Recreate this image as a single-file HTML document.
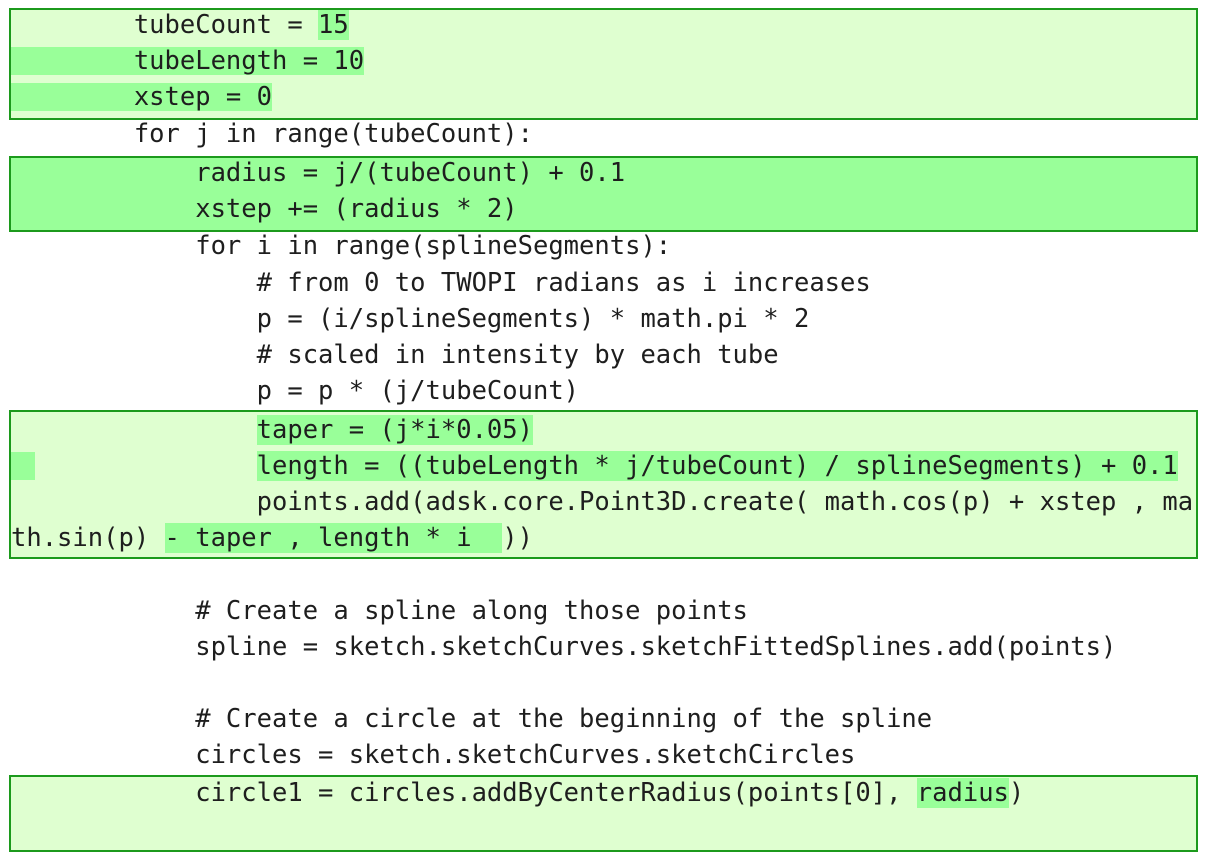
<!DOCTYPE html>
<html><head><meta charset="utf-8"><style>
body{margin:0;width:1206px;height:862px;background:#fff;position:relative;overflow:hidden;font-family:"DejaVu Sans Mono","Liberation Mono",monospace;font-size:25.5px;color:#1e1e1e}
.box{position:absolute;left:9px;width:1185px;border:2px solid #1c9a1c;background:#dfffd0;box-sizing:content-box}
.dark{background:#99ff99}
.l{position:absolute;left:11px;height:28px;line-height:28px;white-space:pre}
.h{background:#99ff99}
.bar{position:absolute;background:#99ff99;height:28px}
</style></head><body>
<div class="box" style="top:8px;height:108px"></div>
<div class="box dark" style="top:156px;height:72px"></div>
<div class="box" style="top:410px;height:145px"></div>
<div class="box" style="top:775px;height:73px"></div>

<div class="bar" style="left:11px;top:47px;width:353px"></div>
<div class="bar" style="left:11px;top:83px;width:261px"></div>
<div class="bar" style="left:11px;top:452px;width:24px"></div>

<div class="l" style="top:11px">        tubeCount = <span class="h">15</span></div>
<div class="l" style="top:47px">        tubeLength = 10</div>
<div class="l" style="top:83px">        xstep = 0</div>
<div class="l" style="top:120px">        for j in range(tubeCount):</div>
<div class="l" style="top:159px">            radius = j/(tubeCount) + 0.1</div>
<div class="l" style="top:195px">            xstep += (radius * 2)</div>
<div class="l" style="top:232px">            for i in range(splineSegments):</div>
<div class="l" style="top:269px">                # from 0 to TWOPI radians as i increases</div>
<div class="l" style="top:305px">                p = (i/splineSegments) * math.pi * 2</div>
<div class="l" style="top:341px">                # scaled in intensity by each tube</div>
<div class="l" style="top:377px">                p = p * (j/tubeCount)</div>
<div class="l" style="top:416px">                <span class="h">taper = (j*i*0.05)</span></div>
<div class="l" style="top:452px">                <span class="h">length = ((tubeLength * j/tubeCount) / splineSegments) + 0.1</span></div>
<div class="l" style="top:488px">                points.add(adsk.core.Point3D.create( math.cos(p) + xstep , ma</div>
<div class="l" style="top:524px">th.sin(p) <span class="h">- taper , length * i  </span>))</div>
<div class="l" style="top:597px">            # Create a spline along those points</div>
<div class="l" style="top:633px">            spline = sketch.sketchCurves.sketchFittedSplines.add(points)</div>
<div class="l" style="top:705px">            # Create a circle at the beginning of the spline</div>
<div class="l" style="top:741px">            circles = sketch.sketchCurves.sketchCircles</div>
<div class="l" style="top:779px">            circle1 = circles.addByCenterRadius(points[0], <span class="h">radius</span>)</div>
</body></html>
